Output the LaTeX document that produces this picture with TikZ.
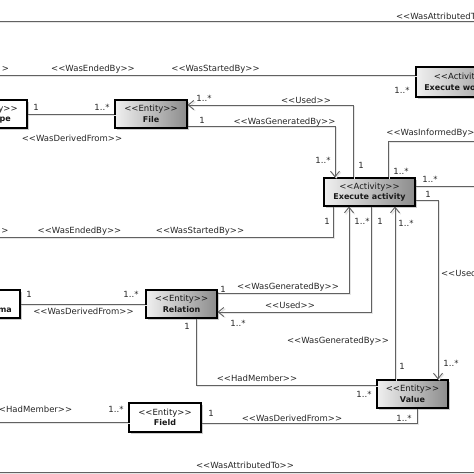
\documentclass[tikz,border=0pt]{standalone}
\usepackage{fontspec}
\newfontfamily\df{DejaVu Sans}
\usetikzlibrary{arrows.meta,shadows}
\newcommand\LL{<\kern0pt<}
\newcommand\GG{>\kern0pt>}
\newcommand\nmf{\fontsize{8}{10.5}\selectfont\bfseries}
\begin{document}
\begin{tikzpicture}[x=1pt,y=-1pt,
  >={Straight Barb[length=5.5pt,width=9pt]},
  conn/.style={draw=black!62,line width=0.9pt,preaction={draw=black!10,line width=1.3pt,transform canvas={shift={(1.2pt,-1.2pt)}}}},
  lbl/.style={font=\df\fontsize{8.5}{10}\selectfont,text=black!85,inner sep=0pt,text height=6pt,text depth=0pt},
  box/.style={draw=black,line width=1.1pt,align=center,inner sep=0pt,font=\df\fontsize{8.5}{10.5}\selectfont,text=black!90,drop shadow={shadow xshift=1.6pt,shadow yshift=-1.6pt,fill=black!40,opacity=0.5}},
  gbox/.style={box,left color=black!6,right color=black!45},
  wbox/.style={box,fill=white}
]
\useasboundingbox (0,0) rectangle (474,474);
\clip (0,0) rectangle (474,474);

% free ends
\coordinate (tl) at (-5,21); \coordinate (tr) at (480,21);
\coordinate (l2) at (-5,75);
\coordinate (ir) at (480,141);
\coordinate (er) at (480,186);
\coordinate (l3) at (-5,237);
\coordinate (l4) at (-5,422);
\coordinate (bl) at (-5,472); \coordinate (br) at (480,472);

% boxes
\node[gbox,minimum width=96pt,minimum height=30pt] (exwf) at (464,82) {\LL Activity\GG\\\nmf Execute workflow};
\node[wbox,minimum width=72pt,minimum height=28pt] (ftype) at (-9,114) {\LL Entity\GG\\\nmf File type};
\node[gbox,minimum width=72pt,minimum height=28pt] (file) at (151,114) {\LL Entity\GG\\\nmf File};
\node[gbox,minimum width=91pt,minimum height=28pt] (ea) at (369.5,192) {\LL Activity\GG\\\nmf Execute activity};
\node[wbox,minimum width=96pt,minimum height=28pt] (schema) at (-28,304) {\LL Entity\GG\\\nmf Database schema};
\node[gbox,minimum width=71pt,minimum height=28pt] (rel) at (181.5,304) {\LL Entity\GG\\\nmf Relation};
\node[gbox,minimum width=71pt,minimum height=28pt] (val) at (412.5,394) {\LL Entity\GG\\\nmf Value};
\node[wbox,minimum width=72pt,minimum height=29pt] (field) at (165,417.5) {\LL Entity\GG\\\nmf Field};

% connectors
\draw[conn] (tl) -- (tr);
\draw[conn] (l2) -- ([yshift=7pt]exwf.west);
\draw[conn] (ftype.east) -- (file.west);
\draw[conn,<-] ([yshift=9pt]file.east) -| ([xshift=-16.5pt]ea.north);
\draw[conn,->] ([yshift=-12pt]file.east) -| ([xshift=-34.5pt]ea.north);
\draw[conn] ([xshift=18.5pt]ea.north) |- (ir);
\draw[conn] ([yshift=6pt]ea.east) -- (er);
\draw[conn,->] ([yshift=-8pt]ea.east) -| ([xshift=25.5pt]val.north);
\draw[conn] ([xshift=-36.5pt]ea.south) |- (l3);
\draw[conn,->] ([yshift=11pt]rel.east) -| ([xshift=-20.5pt]ea.south);
\draw[conn,->] ([xshift=1.5pt]ea.south) |- ([yshift=-8pt]rel.east);
\draw[conn,->] ([xshift=-17.5pt]val.north) -- ([xshift=25.5pt]ea.south);
\draw[conn] (schema.east) -- (rel.west);
\draw[conn] ([xshift=14.5pt]rel.south) |- ([yshift=9pt]val.west);
\draw[conn] (l4) -- ([yshift=-4.5pt]field.west);
\draw[conn] ([yshift=-5.5pt]field.east) -| ([xshift=4.5pt]val.south);
\draw[conn] (bl) -- (br);

% labels
\node[lbl] (t1) at (445,16) {\LL WasAttributedTo\GG};
\node[lbl] (t2) at (5.5,68) {>};
\node[lbl] (t3) at (93,68) {\LL WasEndedBy\GG};
\node[lbl] (t4) at (215.5,68) {\LL WasStartedBy\GG};
\node[lbl] (t5) at (402,90) {1..*};
\node[lbl] (t6) at (36,107) {1};
\node[lbl] (t7) at (102,107) {1..*};
\node[lbl] (t8) at (72,138) {\LL WasDerivedFrom\GG};
\node[lbl] (t9) at (204,98) {1..*};
\node[lbl] (t10) at (306,100) {\LL Used\GG};
\node[lbl] (t11) at (361,165) {1};
\node[lbl] (t12) at (202,120) {1};
\node[lbl] (t13) at (284.5,121) {\LL WasGeneratedBy\GG};
\node[lbl] (t14) at (323,160) {1..*};
\node[lbl] (t15) at (434,132) {\LL WasInformedBy\GG};
\node[lbl] (t16) at (401,171) {1..*};
\node[lbl] (t17) at (430,179) {1..*};
\node[lbl] (t18) at (428,194) {1};
\node[lbl] (t19) at (466,273) {\LL Used\GG};
\node[lbl] (t20) at (451,363) {1..*};
\node[lbl] (t21) at (327,221) {1};
\node[lbl] (t22) at (5,230) {>};
\node[lbl] (t23) at (79.5,230) {\LL WasEndedBy\GG};
\node[lbl] (t24) at (200,230) {\LL WasStartedBy\GG};
\node[lbl] (t25) at (362,221) {1..*};
\node[lbl] (t26) at (223,289) {1};
\node[lbl] (t27) at (288,286) {\LL WasGeneratedBy\GG};
\node[lbl] (t28) at (380,221) {1};
\node[lbl] (t29) at (290,305) {\LL Used\GG};
\node[lbl] (t30) at (238,323) {1..*};
\node[lbl] (t31) at (406,223) {1..*};
\node[lbl] (t32) at (402,366) {1};
\node[lbl] (t33) at (338,340) {\LL WasGeneratedBy\GG};
\node[lbl] (t34) at (29,294) {1};
\node[lbl] (t35) at (131,294) {1..*};
\node[lbl] (t36) at (83.5,311) {\LL WasDerivedFrom\GG};
\node[lbl] (t37) at (187,326) {1};
\node[lbl] (t38) at (257,378) {\LL HadMember\GG};
\node[lbl] (t39) at (364,394) {1..*};
\node[lbl] (t40) at (32,409) {\LL HadMember\GG};
\node[lbl] (t41) at (116,409) {1..*};
\node[lbl] (t42) at (211,413) {1};
\node[lbl] (t43) at (292,418) {\LL WasDerivedFrom\GG};
\node[lbl] (t44) at (404,418) {1..*};
\node[lbl] (t45) at (245,465) {\LL WasAttributedTo\GG};
\end{tikzpicture}
\end{document}
